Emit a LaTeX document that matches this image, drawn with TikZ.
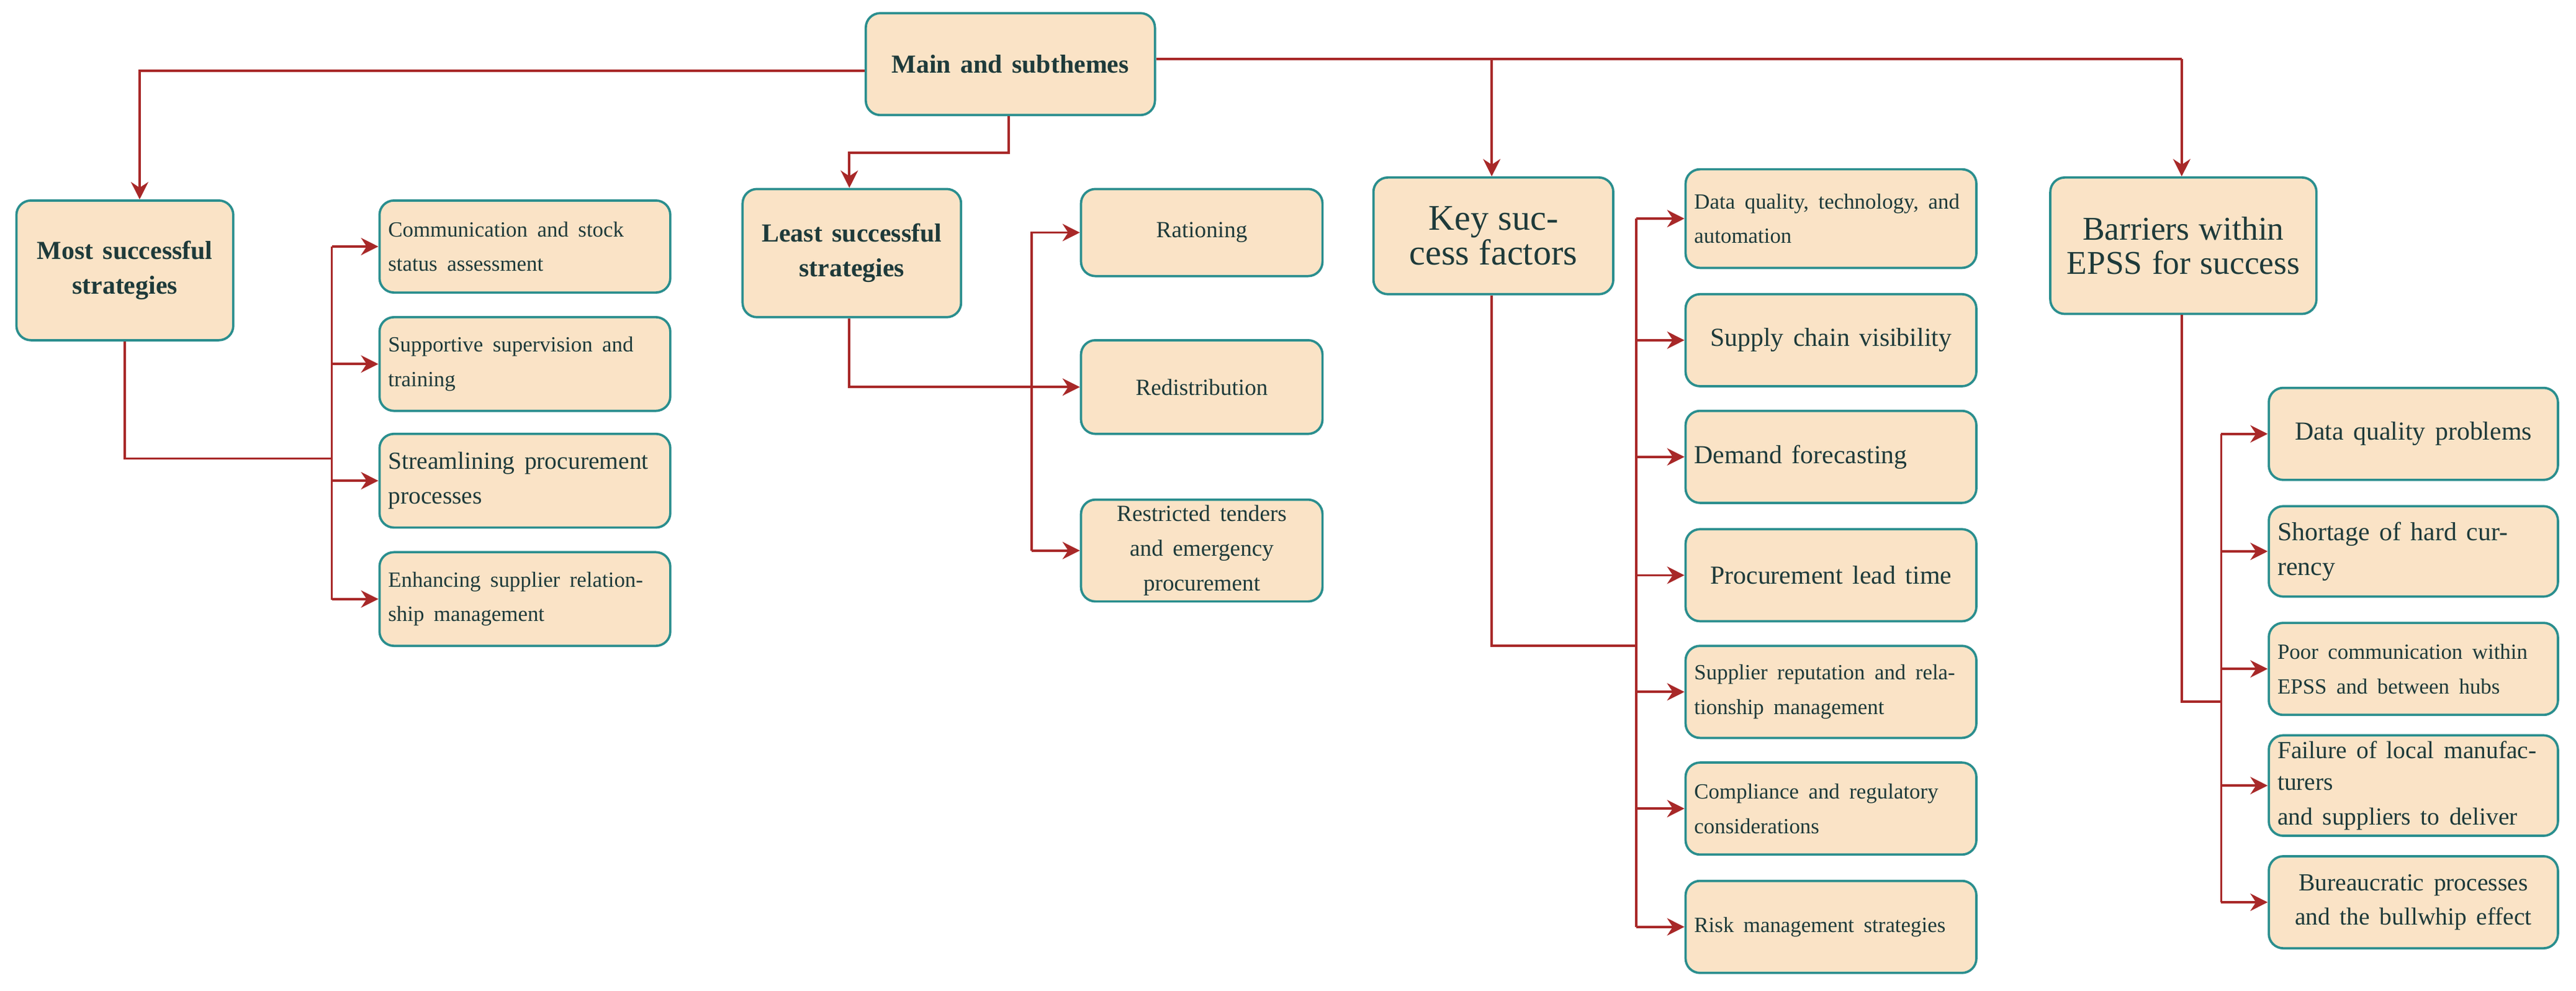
\documentclass[tikz,border=0pt]{standalone}
\usepackage{fontspec}
\setmainfont{Liberation Serif}
\usetikzlibrary{arrows.meta}
\definecolor{fillc}{HTML}{FAE3C6}
\definecolor{edgec}{HTML}{2A8E8E}
\definecolor{linec}{HTML}{A82828}
\definecolor{txt}{HTML}{1E3A3A}
\begin{document}
\begin{tikzpicture}[x=0.02cm,y=-0.02cm,
 box/.style={draw=edgec,line width=0.8pt,fill=fillc,rounded corners=5pt,text=txt,inner sep=2pt},
 ln/.style={draw=linec,line width=0.8pt},
 ar/.style={ln,-{Stealth[length=6pt,width=6pt]}}]
\useasboundingbox (0,0) rectangle (1568,603);
\newcommand{\bx}[7]{\node[box,minimum width={(#4-#2)*0.02cm},minimum height={(#5-#3)*0.02cm},text width={(#4-#2)*0.02cm-6pt},align=#6] (#1) at ({(#2+#4)/2},{(#3+#5)/2}) {#7};}
% main
\bx{main}{527}{8}{703}{70}{center}{\fontsize{9}{11}\selectfont\bfseries Main and subthemes}
\bx{most}{10}{122}{142}{207}{center}{\fontsize{9}{14}\selectfont\bfseries Most successful strategies}
\bx{m1}{231}{122}{408}{178}{left}{\fontsize{7.5}{12}\selectfont Communication and stock status assessment}
\bx{m2}{231}{193}{408}{250}{left}{\fontsize{7.5}{13}\selectfont Supportive supervision and training}
\bx{m3}{231}{264}{408}{321}{left}{\fontsize{8.5}{13}\selectfont Streamlining procurement processes}
\bx{m4}{231}{336}{408}{393}{left}{\fontsize{7.5}{13}\selectfont Enhancing supplier relationship management}
\bx{least}{452}{115}{585}{193}{center}{\fontsize{9}{14}\selectfont\bfseries Least successful strategies}
\bx{l1}{658}{115}{805}{168}{center}{\fontsize{8}{10}\selectfont Rationing\\[8pt]}
\bx{l2}{658}{207}{805}{264}{center}{\fontsize{8}{10}\selectfont Redistribution\\[8pt]}
\bx{l3}{658}{307}{805}{363}{center}{\fontsize{8}{12}\selectfont Restricted tenders and emergency procurement}
\bx{key}{836}{108}{982}{179}{center}{\fontsize{12.5}{15}\selectfont Key success factors}
\bx{k1}{1026}{103}{1203}{163}{left}{\fontsize{7.5}{12}\selectfont Data quality, technology, and automation}
\bx{k2}{1026}{179}{1203}{235}{center}{\fontsize{9}{11}\selectfont Supply chain visibility\\[8pt]}
\bx{k3}{1026}{250}{1203}{306}{left}{\fontsize{9}{11}\selectfont Demand forecasting\\[8pt]}
\bx{k4}{1026}{322}{1203}{378}{center}{\fontsize{9}{11}\selectfont Procurement lead time\\[8pt]}
\bx{k5}{1026}{393}{1203}{449}{left}{\fontsize{7.5}{10}\selectfont Supplier reputation and relationship management}
\bx{k6}{1026}{464}{1203}{520}{left}{\fontsize{7.5}{12}\selectfont Compliance and regulatory considerations}
\bx{k7}{1026}{536}{1203}{592}{left}{\fontsize{7.5}{12}\selectfont Risk management strategies}
\bx{bar}{1248}{108}{1410}{191}{center}{\fontsize{11.5}{13}\selectfont Barriers within EPSS for success}
\bx{b1}{1381}{236}{1557}{292}{center}{\fontsize{9}{11}\selectfont Data quality problems\\[6pt]}
\bx{b2}{1381}{308}{1557}{363}{left}{\fontsize{9}{12}\selectfont Shortage of hard currency}
\bx{b3}{1381}{379}{1557}{435}{left}{\fontsize{7.5}{12}\selectfont Poor communication within EPSS and between hubs}
\bx{b4}{1381}{450}{1557}{506}{left}{\fontsize{8.5}{11}\selectfont Failure of local manufacturers\\and suppliers to deliver}
\bx{b5}{1381}{521}{1557}{577}{center}{\fontsize{8.5}{12}\selectfont Bureaucratic processes and the bullwhip effect}
% top connectors
\draw[ar] (main.west |- 0,43) -| (most.north -| 85,0);
\draw[ar] (main.south -| 614,0) |- (517,93) -- (least.north -| 517,0);
\draw[ln] (main.east |- 0,36) -- (1328,36);
\draw[ar] (908,36) -- (key.north -| 908,0);
\draw[ar] (1328,36) -- (bar.north -| 1328,0);
% most
\draw[ln] (most.south -| 76,0) |- (202,279);
\draw[ln] (202,150) -- (202,365);
\foreach \n in {m1,m2,m3,m4} \draw[ar] (\n.west -| 202,0) -- (\n.west);
% least
\draw[ar] (least.south -| 517,0) |- (l2.west);
\draw[ln] (628,141) -- (628,335);
\foreach \n in {l1,l3} \draw[ar] (\n.west -| 628,0) -- (\n.west);
% key
\draw[ln] (key.south -| 908,0) |- (996,393);
\draw[ln] (996,133) -- (996,564);
\foreach \n in {k1,k2,k3,k4,k5,k6,k7} \draw[ar] (\n.west -| 996,0) -- (\n.west);
% barriers
\draw[ln] (bar.south -| 1328,0) |- (1352,427);
\draw[ln] (1352,264) -- (1352,549);
\foreach \n in {b1,b2,b3,b4,b5} \draw[ar] (\n.west -| 1352,0) -- (\n.west);
\end{tikzpicture}
\end{document}
